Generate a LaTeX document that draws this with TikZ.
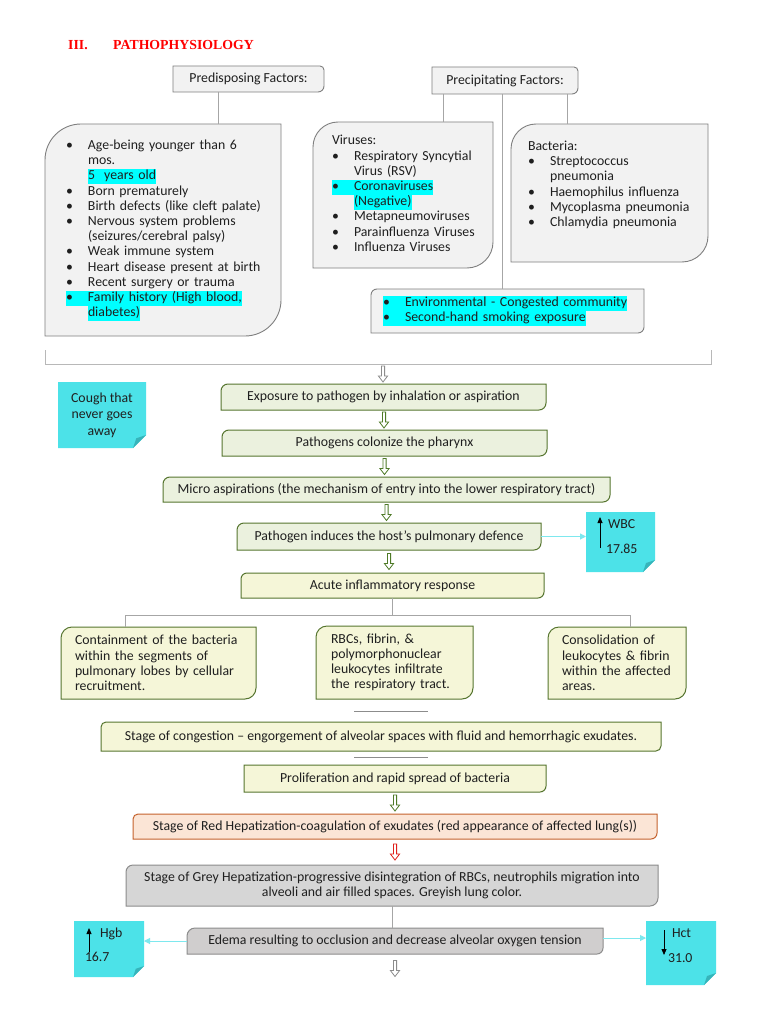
\documentclass[tikz,border=0pt]{standalone}
\usepackage{fontspec}
\setmainfont{Carlito}
\newfontfamily\titlefont{Liberation Serif}
\usetikzlibrary{calc,backgrounds,arrows.meta}
\pgfdeclarelayer{paper}
\pgfsetlayers{paper,background,main}
\definecolor{txt}{HTML}{1F1F1F}
\definecolor{fgfill}{HTML}{F2F2F2}
\definecolor{fgline}{HTML}{7F7F7F}
\definecolor{gfill}{HTML}{EBF1DE}
\definecolor{gline}{HTML}{56752F}
\definecolor{yfill}{HTML}{F5F6D8}
\definecolor{rfill}{HTML}{FBE5D6}
\definecolor{rline}{HTML}{C4622D}
\definecolor{greyfill}{HTML}{D6D6D6}
\definecolor{greyline}{HTML}{8C8C8C}
\definecolor{edfill}{HTML}{D0CECE}
\definecolor{notec}{HTML}{4CE2E8}
\definecolor{notefold}{HTML}{36B4BA}
\definecolor{hlc}{HTML}{00FFFF}
\definecolor{arrc}{HTML}{7EE8EE}
\definecolor{conn}{HTML}{A6A6A6}
\definecolor{titlered}{HTML}{FF0000}
\definecolor{agreen}{HTML}{4E7A27}
\definecolor{ared}{HTML}{E0201B}
\definecolor{agrey}{HTML}{8C8C8C}
\newcommand\fs{\fontsize{13.8}{15.2}\selectfont}
\newcommand\li[1]{\mbox{\strut#1}}
\newcommand\bu{\makebox[22pt][l]{\textbullet}}
\newcommand\ind{\hspace*{22pt}}
\newcommand\hl[1]{{\setlength{\fboxsep}{0pt}\colorbox{hlc}{\strut#1}}}
% shape with per-corner radii: node, TL, TR, BR, BL, style
\newcommand\shp[6]{%
  \path[#6] let \p1=(#1.north west), \p2=(#1.south east) in
  (\x1,\y1-#2pt) .. controls (\x1,\y1-0.448*#2pt) and (\x1+0.448*#2pt,\y1) .. (\x1+#2pt,\y1)
  -- (\x2-#3pt,\y1) .. controls (\x2-0.448*#3pt,\y1) and (\x2,\y1-0.448*#3pt) .. (\x2,\y1-#3pt)
  -- (\x2,\y2+#4pt) .. controls (\x2,\y2+0.448*#4pt) and (\x2-0.448*#4pt,\y2) .. (\x2-#4pt,\y2)
  -- (\x1+#5pt,\y2) .. controls (\x1+0.448*#5pt,\y2) and (\x1,\y2+0.448*#5pt) .. (\x1,\y2+#5pt)
  -- cycle;}
% sticky note: node, fold size
\newcommand\notebg[2]{%
  \fill[notec] let \p1=(#1.north west), \p2=(#1.south east) in
  (\x1,\y1) -- (\x2,\y1) -- (\x2,\y2+#2pt) -- (\x2-#2pt,\y2) -- (\x1,\y2) -- cycle;
  \fill[notefold] let \p1=(#1.north west), \p2=(#1.south east) in
  (\x2,\y2+#2pt) -- (\x2-#2pt,\y2) -- (\x2-0.75*#2pt,\y2+0.75*#2pt) -- cycle;}
\begin{document}
\begin{tikzpicture}[x=1pt,y=-1pt,
  base/.style={inner sep=0pt, outer sep=0pt, font=\fs, text=txt, anchor=north west},
  lbox/.style={base, align=left},
  note/.style={base, align=center, font=\fontsize{13.8}{16.5}\selectfont},
  notetxt/.style={inner sep=0pt, outer sep=0pt, font=\fs, text=txt, anchor=base west},
  fgshape/.style={fill=fgfill, draw=fgline, line width=0.9pt},
  gshape/.style={fill=gfill, draw=gline, line width=1pt},
  yshape/.style={fill=yfill, draw=gline, line width=1pt},
  rshape/.style={fill=rfill, draw=rline, line width=1pt},
  greyshape/.style={fill=greyfill, draw=greyline, line width=1pt},
  edshape/.style={fill=edfill, draw=greyline, line width=1pt},
  cline/.style={draw=conn, line width=0.9pt},
  cyanarrow/.style={draw=arrc, line width=1pt, -{Triangle[length=6pt,width=6pt]}},
  uparrow/.style={draw=black, line width=0.8pt, -{Triangle[length=6pt,width=5pt]}},
  harrow/.pic={\path[pic actions] (-1.6,-8) -- (1.6,-8) -- (1.6,2) -- (4.6,2) -- (0,8) -- (-4.6,2) -- (-1.6,2) -- cycle;}
]
\begin{pgfonlayer}{paper}
\fill[white] (0,0) rectangle (768,1024);
\end{pgfonlayer}
\useasboundingbox (0,0) rectangle (768,1024);

% title
\node[anchor=base west, inner sep=0pt, font=\titlefont\bfseries\fontsize{13.8}{16}\selectfont, text=titlered] (t1) at (68,50) {III.};
\node[anchor=base west, inner sep=0pt, font=\titlefont\bfseries\fontsize{13.8}{16}\selectfont, text=titlered] (t2) at (113,50) {PATHOPHYSIOLOGY};

% factor labels
\node[base, minimum width=151pt, minimum height=26pt] (pre) at (173,66) {Predisposing Factors:};
\node[base, minimum width=146pt, minimum height=27pt] (pc) at (432,67) {Precipitating Factors:};

% predisposing list
\node[lbox, text width=194pt, inner xsep=21pt, minimum height=212pt] (pdb) at (45,124) {%
\li{\bu Age-being younger than 6}\\
\li{\ind mos.}\\
\li{\ind\hl{5~ years old}}\\
\li{\bu Born prematurely}\\
\li{\bu Birth defects (like cleft palate)}\\
\li{\bu Nervous system problems}\\
\li{\ind (seizures/cerebral palsy)}\\
\li{\bu Weak immune system}\\
\li{\bu Heart disease present at birth}\\
\li{\bu Recent surgery or trauma}\\
\li{\hl{\bu Family history (High blood,}}\\
\li{\ind\hl{diabetes)}}};

% viruses
\node[lbox, text width=142pt, inner xsep=19pt, minimum height=146pt] (vir) at (313,122) {%
\li{Viruses:}\\
\li{\bu Respiratory Syncytial}\\
\li{\ind Virus (RSV)}\\
\li{\hl{\bu Coronaviruses}}\\
\li{\ind\hl{(Negative)}}\\
\li{\bu Metapneumoviruses}\\
\li{\bu Parainfluenza Viruses}\\
\li{\bu Influenza Viruses}};

% bacteria
\node[lbox, text width=163pt, inner xsep=17pt, minimum height=138pt] (bac) at (511,124) {%
\li{Bacteria:}\\
\li{\bu Streptococcus}\\
\li{\ind pneumonia}\\
\li{\bu Haemophilus influenza}\\
\li{\bu Mycoplasma pneumonia}\\
\li{\bu Chlamydia pneumonia}\\
\li{}};

% environmental
\node[lbox, text width=249pt, inner xsep=12pt, minimum height=44pt] (env) at (371,289) {%
\li{\hl{\bu Environmental - Congested community}}\\
\li{\hl{\bu Second-hand smoking exposure}}};

% flow boxes
\node[base, minimum width=325pt, minimum height=26pt] (exp) at (221,384) {Exposure to pathogen by inhalation or aspiration};
\node[base, minimum width=325pt, minimum height=26pt] (col) at (222,430) {Pathogens colonize the pharynx};
\node[base, minimum width=447pt, minimum height=25pt] (mic) at (163,477) {Micro aspirations (the mechanism of entry into the lower respiratory tract)};
\node[base, minimum width=304pt, minimum height=27pt] (ind) at (237,523) {Pathogen induces the host’s pulmonary defence};
\node[base, minimum width=303pt, minimum height=25pt] (acu) at (241,573) {Acute inflammatory response};
\node[lbox, text width=167pt, inner xsep=14pt, minimum height=72pt] (con) at (61,627) {%
Containment of the bacteria\\within the segments of\\pulmonary lobes by cellular\\recruitment.};
\node[lbox, text width=127pt, inner xsep=15pt, minimum height=73pt] (rbc) at (316,626) {%
RBCs, fibrin, \&\\polymorphonuclear\\leukocytes infiltrate\\the respiratory tract.};
\node[lbox, text width=110pt, inner xsep=14pt, minimum height=72pt] (cns) at (548,627) {%
Consolidation of\\leukocytes \& fibrin\\within the affected\\areas.};
\node[base, minimum width=560pt, minimum height=29pt] (stg) at (101,722) {Stage of congestion – engorgement of alveolar spaces with fluid and hemorrhagic exudates.};
\node[base, minimum width=302pt, minimum height=27pt] (pro) at (244,765) {Proliferation and rapid spread of bacteria};
\node[base, minimum width=524pt, minimum height=25pt] (red) at (133,814) {Stage of Red Hepatization-coagulation of exudates (red appearance of affected lung(s))};
\node[base, align=center, minimum width=532pt, minimum height=41pt] (gry) at (126,865) {Stage of Grey Hepatization-progressive disintegration of RBCs, neutrophils migration into\\alveoli and air filled spaces. Greyish lung color.};
\node[base, minimum width=416pt, minimum height=26pt] (ede) at (187,928) {Edema resulting to occlusion and decrease alveolar oxygen tension};

% notes
\node[note, minimum width=88pt, minimum height=66pt] (cough) at (58,382) {Cough that\\never goes\\away};
\node[note, minimum width=69pt, minimum height=60pt] (wbc) at (586,512) {};
\node[note, minimum width=70pt, minimum height=56pt] (hgb) at (74,921) {};
\node[note, minimum width=70pt, minimum height=64pt] (hct) at (646,921) {};
\node[notetxt] (wbcL) at (608,528.5) {WBC};
\node[notetxt] (wbcV) at (606,553) {17.85};
\node[notetxt] (hgbL) at (100,937.5) {Hgb};
\node[notetxt] (hgbV) at (85,961.5) {16.7};
\node[notetxt] (hctL) at (672,937.5) {Hct};
\node[notetxt] (hctV) at (668,962.5) {31.0};
\coordinate (wbcA1) at (600,548); \coordinate (wbcA2) at (600,517);
\coordinate (hgbA1) at (89,952); \coordinate (hgbA2) at (89,928);
\coordinate (hctA1) at (664,930); \coordinate (hctA2) at (664,955);
\draw[uparrow] (wbcA1) -- (wbcA2);
\draw[uparrow] (hgbA1) -- (hgbA2);
\draw[uparrow] (hctA1) -- (hctA2);

% background shapes
\begin{scope}[on background layer]
\shp{pre}{0}{4}{6}{0}{fgshape}
\shp{pc}{0}{4}{6}{0}{fgshape}
\shp{pdb}{36}{0}{36}{0}{fgshape}
\shp{vir}{25}{0}{26}{0}{fgshape}
\shp{bac}{25}{0}{26}{0}{fgshape}
\shp{env}{6}{0}{6}{0}{fgshape}
\shp{exp}{7}{0}{7}{0}{gshape}
\shp{col}{7}{0}{7}{0}{gshape}
\shp{mic}{7}{0}{7}{0}{gshape}
\shp{ind}{7}{0}{7}{0}{gshape}
\shp{acu}{6}{0}{6}{0}{yshape}
\shp{con}{11}{0}{11}{0}{yshape}
\shp{rbc}{11}{0}{11}{0}{yshape}
\shp{cns}{11}{0}{11}{0}{yshape}
\shp{stg}{5}{0}{5}{0}{yshape}
\shp{pro}{0}{0}{6}{0}{yshape}
\shp{red}{5}{0}{6}{0}{rshape}
\shp{gry}{7}{0}{8}{0}{greyshape}
\shp{ede}{8}{0}{6}{0}{edshape}
\notebg{cough}{13}
\notebg{wbc}{12}
\notebg{hgb}{11}
\notebg{hct}{12}
\end{scope}

% connectors in the factor section
\draw[cline] ([xshift=45pt]pre.south west) -- ([xshift=45pt]pre.south west |- pdb.north);
\draw[cline] ([xshift=11pt]pc.south west) -- ([xshift=11pt]pc.south west |- vir.north);
\draw[cline] ([xshift=70pt]pc.south west) -- ([xshift=70pt]pc.south west |- env.north);
\draw[cline] ([xshift=135pt]pc.south west) -- ([xshift=135pt]pc.south west |- bac.north);

% bracket
\coordinate (bl) at (45,350); \coordinate (br) at (711,350);
\coordinate (brk) at (383,364);
\draw[draw=conn!80, line width=0.9pt] (bl) -- (bl |- brk) -- (br |- brk) -- (br);

% hollow arrows
\pic[draw=agrey, fill=white, line width=0.8pt] (a0) at ($(brk)!0.5!(brk |- exp.north)$) {harrow};
\pic[draw=agreen, fill=white, line width=0.8pt] (a1) at ($(exp.south)!0.5!(col.north)$) {harrow};
\pic[draw=agreen, fill=white, line width=0.8pt] (a2) at ($(col.south)!0.5!(col.south |- mic.north)$) {harrow};
\pic[draw=agreen, fill=white, line width=0.8pt] (a3) at ($(mic.south)!0.5!(mic.south |- ind.north)$) {harrow};
\pic[draw=agreen, fill=white, line width=0.8pt] (a4) at ($(ind.south)!0.5!(ind.south |- acu.north)$) {harrow};
\pic[draw=agreen, fill=white, line width=0.8pt] (a5) at ($(pro.south)!0.5!(pro.south |- red.north)$) {harrow};
\pic[draw=ared, fill=white, line width=0.8pt] (a6) at ($(red.south)!0.5!(red.south |- gry.north)$) {harrow};
\coordinate (endA) at (396,983);
\pic[draw=agrey, fill=white, line width=0.8pt] (a7) at ($(ede.south)!0.5!(ede.south |- endA)$) {harrow};

% tree from acute response
\coordinate (tl) at (125,615); \coordinate (tr) at (630,615);
\draw[cline] (acu.south) -- (acu.south |- tl);
\draw[cline] (tl) -- (tr);
\draw[cline] (tl) -- (tl |- con.north);
\draw[cline] (tr) -- (tr |- cns.north);

% short lines
\coordinate (s1a) at (354,711); \coordinate (s1b) at (428,711);
\coordinate (s2a) at (354,757); \coordinate (s2b) at (428,757);
\draw[draw=greyline, line width=0.9pt] (s1a) -- (s1b);
\draw[draw=greyline, line width=0.9pt] (s2a) -- (s2b);

% grey to edema
\draw[cline] (gry.south) -- (gry.south |- ede.north);

% cyan arrows to notes
\draw[cyanarrow] (ind.east) -- (ind.east -| wbc.west);
\draw[cyanarrow] (ede.west) -- (ede.west -| hgb.east);
\draw[cyanarrow] ([yshift=3pt]ede.east) -- ([yshift=3pt]ede.east -| hct.west);
\end{tikzpicture}
\end{document}
